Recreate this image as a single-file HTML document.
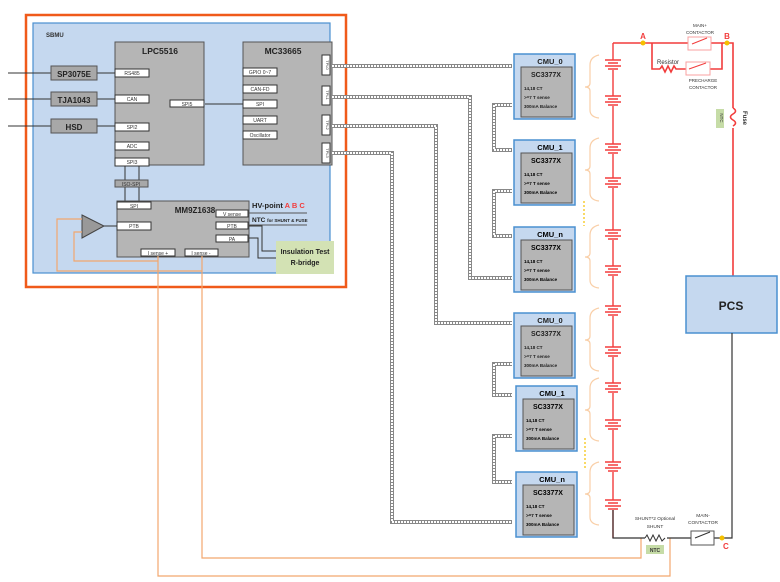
<!DOCTYPE html>
<html><head><meta charset="utf-8"><style>
body{margin:0;background:#fff;}
svg{display:block;font-family:"Liberation Sans",sans-serif;}
.pin{fill:#fff;stroke:#333;stroke-width:1}
.pt{font-size:5px;fill:#333;text-anchor:middle}
.tw{fill:none;stroke:#888;stroke-width:4}
.tw2{fill:none;stroke:#fff;stroke-width:2;stroke-dasharray:2 1}
.red{stroke:#f23c3c;stroke-width:1.6;fill:none}
.or{stroke:#f2a66e;stroke-width:1.2;fill:none}
.br{stroke:#f9cfa8;stroke-width:1.2;fill:none}
</style></head><body>
<svg width="780" height="582" viewBox="0 0 780 582">
<defs>
<g id="cmu">
<rect x="0" y="0" width="61" height="65" fill="#c5d8ef" stroke="#4a90d0" stroke-width="1.5"/>
<rect x="7" y="13" width="51" height="50" fill="#b5b5b5" stroke="#555" stroke-width="1"/>
<text x="36" y="10" font-size="7.5" font-weight="bold" text-anchor="middle" fill="#222">CMU_0</text>
<text x="32" y="23" font-size="7" font-weight="bold" text-anchor="middle" fill="#222">SC3377X</text>
<text x="10" y="36" font-size="4.5" font-weight="bold" fill="#222">14,18 CT</text>
<text x="10" y="45" font-size="4.5" font-weight="bold" fill="#222">&gt;=7 T sense</text>
<text x="10" y="54" font-size="4.5" font-weight="bold" fill="#222">300mA Balance</text>
</g>
<g id="bat">
<line x1="-8" y1="0" x2="8" y2="0" stroke="#f23c3c" stroke-width="1.5"/>
<line x1="-5" y1="3" x2="5" y2="3" stroke="#f23c3c" stroke-width="1.5"/>
<line x1="-8" y1="6" x2="8" y2="6" stroke="#f23c3c" stroke-width="1.5"/>
<line x1="-5" y1="9" x2="5" y2="9" stroke="#f23c3c" stroke-width="1.5"/>
</g>
</defs>

<rect x="26" y="15" width="320" height="272" fill="none" stroke="#f05a1a" stroke-width="2.5"/>
<rect x="33" y="23" width="297" height="250" fill="#c5d8ef" stroke="#4a90d0" stroke-width="1.2"/>
<text x="46" y="37" font-size="6" font-weight="bold" fill="#333">SBMU</text>

<line x1="8" y1="73" x2="51" y2="73" stroke="#333"/>
<line x1="8" y1="99" x2="51" y2="99" stroke="#333"/>
<line x1="8" y1="126" x2="51" y2="126" stroke="#333"/>
<line x1="97" y1="73" x2="115" y2="73" stroke="#333"/>
<line x1="97" y1="99" x2="115" y2="99" stroke="#333"/>
<line x1="97" y1="126" x2="115" y2="126" stroke="#333"/>
<rect x="51" y="66" width="46" height="14" fill="#a8a8a8" stroke="#555"/>
<text x="74" y="77" font-size="8" font-weight="bold" text-anchor="middle" fill="#222">SP3075E</text>
<rect x="51" y="92" width="46" height="14" fill="#a8a8a8" stroke="#555"/>
<text x="74" y="103" font-size="8" font-weight="bold" text-anchor="middle" fill="#222">TJA1043</text>
<rect x="51" y="119" width="46" height="14" fill="#a8a8a8" stroke="#555"/>
<text x="74" y="130" font-size="8" font-weight="bold" text-anchor="middle" fill="#222">HSD</text>

<rect x="115" y="42" width="89" height="123" fill="#b5b5b5" stroke="#555"/>
<text x="160" y="54" font-size="8.5" font-weight="bold" text-anchor="middle" fill="#222">LPC5516</text>
<rect class="pin" x="115" y="69" width="34" height="8"/><text class="pt" x="132" y="75">RS485</text>
<rect class="pin" x="115" y="95" width="34" height="8"/><text class="pt" x="132" y="101">CAN</text>
<rect class="pin" x="115" y="123" width="34" height="8"/><text class="pt" x="132" y="129">SPI2</text>
<rect class="pin" x="115" y="142" width="34" height="8"/><text class="pt" x="132" y="148">ADC</text>
<rect class="pin" x="115" y="158" width="34" height="8"/><text class="pt" x="132" y="164">SPI3</text>
<rect class="pin" x="170" y="100" width="34" height="7"/><text class="pt" x="187" y="106">SPI5</text>
<line x1="205" y1="104" x2="243" y2="104" stroke="#333"/>

<rect x="243" y="42" width="89" height="123" fill="#b5b5b5" stroke="#555"/>
<text x="283" y="54" font-size="8.5" font-weight="bold" text-anchor="middle" fill="#222">MC33665</text>
<rect class="pin" x="243" y="68" width="34" height="8"/><text class="pt" x="260" y="74">GPIO 0~7</text>
<rect class="pin" x="243" y="85" width="34" height="8"/><text class="pt" x="260" y="91">CAN-FD</text>
<rect class="pin" x="243" y="100" width="34" height="8"/><text class="pt" x="260" y="106">SPI</text>
<rect class="pin" x="243" y="116" width="34" height="8"/><text class="pt" x="260" y="122">UART</text>
<rect class="pin" x="243" y="131" width="34" height="8"/><text class="pt" x="260" y="137">Oscillator</text>
<rect class="pin" x="322" y="55" width="8" height="20"/>
<rect class="pin" x="322" y="86" width="8" height="19"/>
<rect class="pin" x="322" y="115" width="8" height="20"/>
<rect class="pin" x="322" y="143" width="8" height="20"/>
<g font-size="4" fill="#333" text-anchor="middle">
<text x="326" y="65" transform="rotate(90 326 65)">TPL0</text>
<text x="326" y="95" transform="rotate(90 326 95)">TPL1</text>
<text x="326" y="125" transform="rotate(90 326 125)">TPL2</text>
<text x="326" y="153" transform="rotate(90 326 153)">TPL3</text>
</g>

<line x1="125" y1="166" x2="125" y2="201" stroke="#333"/>
<line x1="139" y1="166" x2="139" y2="201" stroke="#333"/>
<rect x="115" y="180" width="33" height="7" fill="#a8a8a8" stroke="#555"/>
<text class="pt" x="131" y="186">ISO-SPI</text>

<rect x="117" y="201" width="132" height="56" fill="#b5b5b5" stroke="#555"/>
<text x="195" y="213" font-size="8" font-weight="bold" text-anchor="middle" fill="#222">MM9Z1638</text>
<rect class="pin" x="117" y="202" width="34" height="7"/><text class="pt" x="134" y="208">SPI</text>
<rect class="pin" x="117" y="222" width="34" height="8"/><text class="pt" x="134" y="228">PTB</text>
<rect class="pin" x="216" y="210" width="32" height="7"/><text class="pt" x="232" y="216">V sense</text>
<rect class="pin" x="216" y="222" width="32" height="7"/><text class="pt" x="232" y="228">PTB</text>
<rect class="pin" x="216" y="235" width="32" height="7"/><text class="pt" x="232" y="241">PA</text>
<rect class="pin" x="141" y="249" width="34" height="7"/><text class="pt" x="158" y="255">I sense +</text>
<rect class="pin" x="185" y="249" width="33" height="7"/><text class="pt" x="201" y="255">I sense -</text>
<text x="252" y="208" font-size="7.5" font-weight="bold" fill="#222">HV-point <tspan fill="#f23c3c">A B C</tspan></text>
<line x1="249" y1="213" x2="307" y2="213" stroke="#555"/>
<text x="252" y="222" font-size="6.5" font-weight="bold" fill="#222">NTC <tspan font-size="4.5">for SHUNT &amp; FUSE</tspan></text>
<line x1="249" y1="225" x2="307" y2="225" stroke="#555"/>
<polyline points="249,226 262,226 262,251 276,251" fill="none" stroke="#333"/>
<polyline points="249,238 258,238 258,258 276,258" fill="none" stroke="#333"/>
<rect x="276" y="241" width="58" height="33" fill="#d3e2b4"/>
<text x="305" y="254" font-size="7" font-weight="bold" text-anchor="middle" fill="#222">Insulation Test</text>
<text x="305" y="265" font-size="7" font-weight="bold" text-anchor="middle" fill="#222">R-bridge</text>

<polygon points="82,215 104,226 82,238" fill="#999" stroke="#444"/>
<line x1="104" y1="226" x2="117" y2="226" stroke="#333"/>
<polyline class="or" points="82,219 57,219 57,271 202,271"/>
<polyline class="or" points="82,232 74,232 74,261 158,261"/>
<polyline class="or" points="202,256 202,558 641,558 641,538"/>
<polyline class="or" points="158,256 158,576 670,576 670,538"/>

<g>
<polyline class="tw" points="332,66 512,66"/><polyline class="tw2" points="332,66 512,66"/>
<polyline class="tw" points="332,97 470,97 470,278 512,278"/><polyline class="tw2" points="332,97 470,97 470,278 512,278"/>
<polyline class="tw" points="332,126 436,126 436,323 512,323"/><polyline class="tw2" points="332,126 436,126 436,323 512,323"/>
<polyline class="tw" points="332,153 392,153 392,522 512,522"/><polyline class="tw2" points="332,153 392,153 392,522 512,522"/>
<polyline class="tw" points="512,105 494,105 494,150 512,150"/><polyline class="tw2" points="512,105 494,105 494,150 512,150"/>
<polyline class="tw" points="512,191 494,191 494,236 512,236"/><polyline class="tw2" points="512,191 494,191 494,236 512,236"/>
<polyline class="tw" points="512,364 494,364 494,395 512,395"/><polyline class="tw2" points="512,364 494,364 494,395 512,395"/>
<polyline class="tw" points="512,436 494,436 494,482 512,482"/><polyline class="tw2" points="512,436 494,436 494,482 512,482"/>
</g>

<use href="#cmu" x="514" y="54"/>
<g transform="translate(514,140)"><rect width="61" height="65" fill="#c5d8ef" stroke="#4a90d0" stroke-width="1.5"/><rect x="7" y="13" width="51" height="50" fill="#b5b5b5" stroke="#555"/><text x="36" y="10" font-size="7.5" font-weight="bold" text-anchor="middle">CMU_1</text><text x="32" y="23" font-size="7" font-weight="bold" text-anchor="middle">SC3377X</text><text x="10" y="36" font-size="4.5" font-weight="bold">14,18 CT</text><text x="10" y="45" font-size="4.5" font-weight="bold">&gt;=7 T sense</text><text x="10" y="54" font-size="4.5" font-weight="bold">300mA Balance</text></g>
<g transform="translate(514,227)"><rect width="61" height="65" fill="#c5d8ef" stroke="#4a90d0" stroke-width="1.5"/><rect x="7" y="13" width="51" height="50" fill="#b5b5b5" stroke="#555"/><text x="36" y="10" font-size="7.5" font-weight="bold" text-anchor="middle">CMU_n</text><text x="32" y="23" font-size="7" font-weight="bold" text-anchor="middle">SC3377X</text><text x="10" y="36" font-size="4.5" font-weight="bold">14,18 CT</text><text x="10" y="45" font-size="4.5" font-weight="bold">&gt;=7 T sense</text><text x="10" y="54" font-size="4.5" font-weight="bold">300mA Balance</text></g>
<use href="#cmu" x="514" y="313"/>
<g transform="translate(516,386)"><rect width="61" height="65" fill="#c5d8ef" stroke="#4a90d0" stroke-width="1.5"/><rect x="7" y="13" width="51" height="50" fill="#b5b5b5" stroke="#555"/><text x="36" y="10" font-size="7.5" font-weight="bold" text-anchor="middle">CMU_1</text><text x="32" y="23" font-size="7" font-weight="bold" text-anchor="middle">SC3377X</text><text x="10" y="36" font-size="4.5" font-weight="bold">14,18 CT</text><text x="10" y="45" font-size="4.5" font-weight="bold">&gt;=7 T sense</text><text x="10" y="54" font-size="4.5" font-weight="bold">300mA Balance</text></g>
<g transform="translate(516,472)"><rect width="61" height="65" fill="#c5d8ef" stroke="#4a90d0" stroke-width="1.5"/><rect x="7" y="13" width="51" height="50" fill="#b5b5b5" stroke="#555"/><text x="36" y="10" font-size="7.5" font-weight="bold" text-anchor="middle">CMU_n</text><text x="32" y="23" font-size="7" font-weight="bold" text-anchor="middle">SC3377X</text><text x="10" y="36" font-size="4.5" font-weight="bold">14,18 CT</text><text x="10" y="45" font-size="4.5" font-weight="bold">&gt;=7 T sense</text><text x="10" y="54" font-size="4.5" font-weight="bold">300mA Balance</text></g>

<g class="br">
<path d="M599,55 Q590,57 590,65 L590,83 Q590,87 585,87 Q590,87 590,91 L590,110 Q590,117 599,118"/>
<path d="M599,138 Q590,140 590,148 L590,166 Q590,170 585,170 Q590,170 590,174 L590,193 Q590,200 599,201"/>
<path d="M599,225 Q590,227 590,235 L590,253 Q590,257 585,257 Q590,257 590,261 L590,280 Q590,287 599,288"/>
<path d="M599,308 Q590,310 590,318 L590,336 Q590,340 585,340 Q590,340 590,344 L590,363 Q590,370 599,371"/>
<path d="M599,378 Q590,380 590,388 L590,406 Q590,410 585,410 Q590,410 590,414 L590,433 Q590,440 599,441"/>
<path d="M599,462 Q590,464 590,472 L590,490 Q590,494 585,494 Q590,494 590,498 L590,517 Q590,524 599,525"/>
</g>
<line x1="584" y1="201" x2="584" y2="226" stroke="#f5c000" stroke-width="1.2" stroke-dasharray="2 2"/>
<line x1="585" y1="438" x2="585" y2="470" stroke="#f5c000" stroke-width="1.2" stroke-dasharray="2 2"/>

<line x1="613" y1="43" x2="613" y2="538" stroke="#f23c3c" stroke-width="1.4"/>
<g fill="#fff">
<rect x="603" y="60" width="20" height="10"/><rect x="603" y="96" width="20" height="10"/>
<rect x="603" y="144" width="20" height="10"/><rect x="603" y="178" width="20" height="10"/>
<rect x="603" y="230" width="20" height="10"/><rect x="603" y="266" width="20" height="10"/>
<rect x="603" y="306" width="20" height="10"/><rect x="603" y="347" width="20" height="10"/>
<rect x="603" y="383" width="20" height="10"/><rect x="603" y="420" width="20" height="10"/>
<rect x="603" y="462" width="20" height="10"/><rect x="603" y="500" width="20" height="10"/>
</g>
<g>
<use href="#bat" x="613" y="60"/><use href="#bat" x="613" y="96"/>
<use href="#bat" x="613" y="144"/><use href="#bat" x="613" y="178"/>
<use href="#bat" x="613" y="230"/><use href="#bat" x="613" y="266"/>
<use href="#bat" x="613" y="306"/><use href="#bat" x="613" y="347"/>
<use href="#bat" x="613" y="383"/><use href="#bat" x="613" y="420"/>
<use href="#bat" x="613" y="462"/><use href="#bat" x="613" y="500"/>
</g>

<polyline class="red" points="613,43 733,43 733,276"/>
<polyline class="red" points="652,43 652,69 660,69"/>
<path class="red" d="M660,69 l2,-3 l3,6 l3,-6 l3,6 l3,-6 l2,3 L686,69"/>
<polyline class="red" points="722,43 722,69 710,69"/>
<rect x="688" y="37" width="23" height="13" fill="#fff" stroke="#f9a0a0"/>
<line x1="692" y1="44" x2="707" y2="38" stroke="#f23c3c"/>
<rect x="686" y="62" width="24" height="13" fill="#fff" stroke="#f9a0a0"/>
<line x1="689" y1="69" x2="706" y2="63" stroke="#f23c3c"/>
<circle cx="643" cy="43" r="2.5" fill="#f5c000"/>
<circle cx="727" cy="43" r="2.5" fill="#f5c000"/>
<text x="643" y="39" font-size="8" font-weight="bold" fill="#f23c3c" text-anchor="middle">A</text>
<text x="727" y="39" font-size="8" font-weight="bold" fill="#f23c3c" text-anchor="middle">B</text>
<text x="700" y="27" font-size="4.5" text-anchor="middle" fill="#333">MAIN+</text>
<text x="700" y="34" font-size="4.5" text-anchor="middle" fill="#333">CONTACTOR</text>
<text x="668" y="64" font-size="6" fill="#333" text-anchor="middle">Resistor</text>
<text x="703" y="82" font-size="4.5" text-anchor="middle" fill="#333">PRECHARGE</text>
<text x="703" y="89" font-size="4.5" text-anchor="middle" fill="#333">CONTACTOR</text>
<rect x="729" y="108" width="8" height="20" fill="#fff"/>
<path class="red" d="M733,108 q5,3 0,6 q-5,3 0,6 q5,3 0,6"/>
<text x="743" y="118" font-size="6" font-weight="bold" fill="#333" transform="rotate(90 743 118)" text-anchor="middle">Fuse</text>
<rect x="716" y="109" width="8" height="19" fill="#c6dca7"/>
<text x="720" y="118" font-size="4.5" fill="#333" transform="rotate(90 720 118)" text-anchor="middle">NTC</text>

<rect x="686" y="276" width="91" height="57" fill="#c5d8ef" stroke="#4a90d0" stroke-width="1.5"/>
<text x="731" y="310" font-size="12" font-weight="bold" text-anchor="middle" fill="#222">PCS</text>
<polyline points="732,333 732,538 613,538 613,510" fill="none" stroke="#333" stroke-width="1.2"/>
<rect x="645" y="533" width="22" height="8" fill="#fff"/>
<path d="M645,538 l2,-3 l3,6 l3,-6 l3,6 l3,-6 l3,6 l3,-3" fill="none" stroke="#333"/>
<rect x="691" y="531" width="23" height="14" fill="#fff" stroke="#555"/>
<line x1="695" y1="538" x2="710" y2="532" stroke="#333"/>
<circle cx="722" cy="538" r="2.5" fill="#f5c000"/>
<text x="723" y="549" font-size="8" font-weight="bold" fill="#f23c3c">C</text>
<text x="655" y="520" font-size="4.8" text-anchor="middle" fill="#333">SHUNT*2 Optional</text>
<text x="655" y="528" font-size="4.8" text-anchor="middle" fill="#333">SHUNT</text>
<text x="703" y="517" font-size="4.8" text-anchor="middle" fill="#333">MAIN-</text>
<text x="703" y="524" font-size="4.8" text-anchor="middle" fill="#333">CONTACTOR</text>
<rect x="646" y="545" width="18" height="9" fill="#c6dca7"/>
<text x="655" y="552" font-size="5" font-weight="bold" text-anchor="middle" fill="#333">NTC</text>
</svg>
</body></html>
